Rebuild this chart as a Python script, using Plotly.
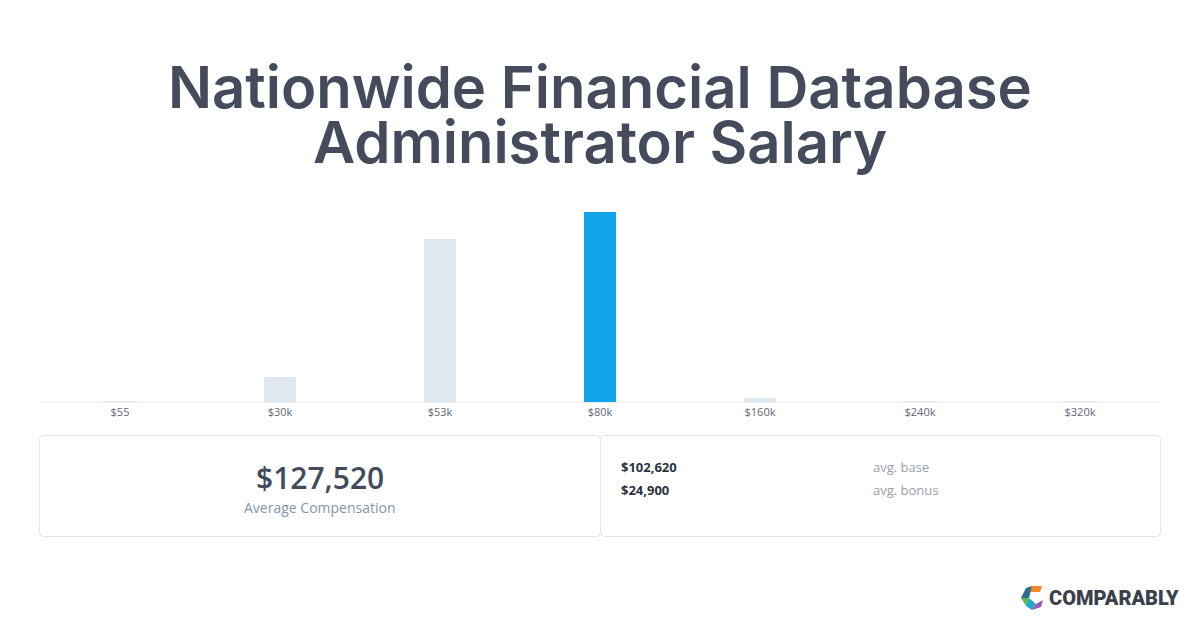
import plotly.graph_objects as go

# the page puts an 8px body margin round the plot, so the figure is drawn
# 8px smaller and every pixel position below is taken from the reference
OFF = 8
W, H = 1200 - OFF, 630 - OFF

# salary buckets (bar heights, arbitrary units)
bucket_labels = ["$55", "$30k", "$53k", "$80k", "$160k", "$240k", "$320k"]
bucket_counts = [1, 25, 163, 190, 4, 1, 1]
highlight = "$80k"

avg_total = "$127,520"
avg_base = "$102,620"
avg_bonus = "$24,900"

title_lines = ["Nationwide Financial Database", "Administrator Salary"]


def px(x):
    return (x - OFF) / W


def py(y):
    return 1 - (y - OFF) / H


def rounded_box(x0, y0, x1, y1, r=4):
    return (f"M {px(x0 + r)} {py(y0)} L {px(x1 - r)} {py(y0)} "
            f"Q {px(x1)} {py(y0)} {px(x1)} {py(y0 + r)} L {px(x1)} {py(y1 - r)} "
            f"Q {px(x1)} {py(y1)} {px(x1 - r)} {py(y1)} L {px(x0 + r)} {py(y1)} "
            f"Q {px(x0)} {py(y1)} {px(x0)} {py(y1 - r)} L {px(x0)} {py(y0 + r)} "
            f"Q {px(x0)} {py(y0)} {px(x0 + r)} {py(y0)} Z")


def poly(points, color):
    d = "M " + " L ".join(f"{px(a)} {py(b)}" for a, b in points) + " Z"
    return dict(type="path", xref="paper", yref="paper", path=d,
                fillcolor=color, line=dict(width=0))


def label(x, y, text, size, color, anchor="center", family="Open Sans", weight=400):
    return dict(x=px(x), y=py(y), xref="paper", yref="paper", text=text,
                showarrow=False, xanchor=anchor, yanchor="middle",
                font=dict(family=family, size=size, color=color, weight=weight))


colors = ["#12a4e9" if b == highlight else "#e0e7ee" for b in bucket_labels]

fig = go.Figure()
fig.add_trace(go.Bar(
    x=bucket_labels,
    y=bucket_counts,
    width=0.2,
    marker=dict(color=colors, line=dict(width=0)),
    hoverinfo="skip",
))

shapes = [
    # summary boxes
    dict(type="path", xref="paper", yref="paper",
         path=rounded_box(39.5, 435.5, 600.5, 536.5),
         line=dict(color="#e1e6ec", width=1), fillcolor="white", layer="below"),
    dict(type="path", xref="paper", yref="paper",
         path=rounded_box(600.5, 435.5, 1160.5, 536.5),
         line=dict(color="#e1e6ec", width=1), fillcolor="white", layer="below"),
    # logo mark
    poly([(1032, 586), (1042, 586), (1040, 592), (1030, 592)], "#f5892a"),
    poly([(1026, 588), (1032, 586), (1029, 598), (1021, 598)], "#2f6c8f"),
    poly([(1021, 598), (1029, 598), (1026, 606)], "#5cb946"),
    poly([(1026, 606), (1029, 598), (1036, 604), (1032, 610)], "#22a8c7"),
    poly([(1036, 604), (1043, 600), (1041, 607), (1032, 610)], "#a054b8"),
]

annotations = [
    label(600, 87, title_lines[0], 58, "#454b5b", family="Inter", weight=600),
    label(600, 142, title_lines[1], 58, "#454b5b", family="Inter", weight=600),
    label(320, 477, avg_total, 30, "#434b5a", weight=600),
    label(320, 507, "Average Compensation", 14, "#8595aa"),
    label(619, 467, avg_base, 13, "#2c313c", anchor="left", weight=700),
    label(871, 467, "avg. base", 13, "#9aa0a9", anchor="left"),
    label(619, 490, avg_bonus, 13, "#2c313c", anchor="left", weight=700),
    label(871, 490, "avg. bonus", 13, "#9aa0a9", anchor="left"),
    label(1047, 598, "COMPARABLY", 20, "#3b404b", anchor="left", family="Roboto", weight=900),
]

fig.update_layout(
    width=W, height=H,
    margin=dict(l=0, r=0, t=0, b=0),
    paper_bgcolor="white", plot_bgcolor="white",
    showlegend=False,
    xaxis=dict(domain=[px(40), px(1160)], range=[-0.5, len(bucket_labels) - 0.5],
               showgrid=False, zeroline=False,
               showline=True, linecolor="#eef0f3", linewidth=1,
               ticks="", tickfont=dict(family="Open Sans", size=11, color="#5f6672"),
               fixedrange=True),
    yaxis=dict(domain=[py(402), py(212)], range=[0, max(bucket_counts)],
               visible=False, fixedrange=True),
    shapes=shapes,
    annotations=annotations,
)

fig.write_html("out.html")
